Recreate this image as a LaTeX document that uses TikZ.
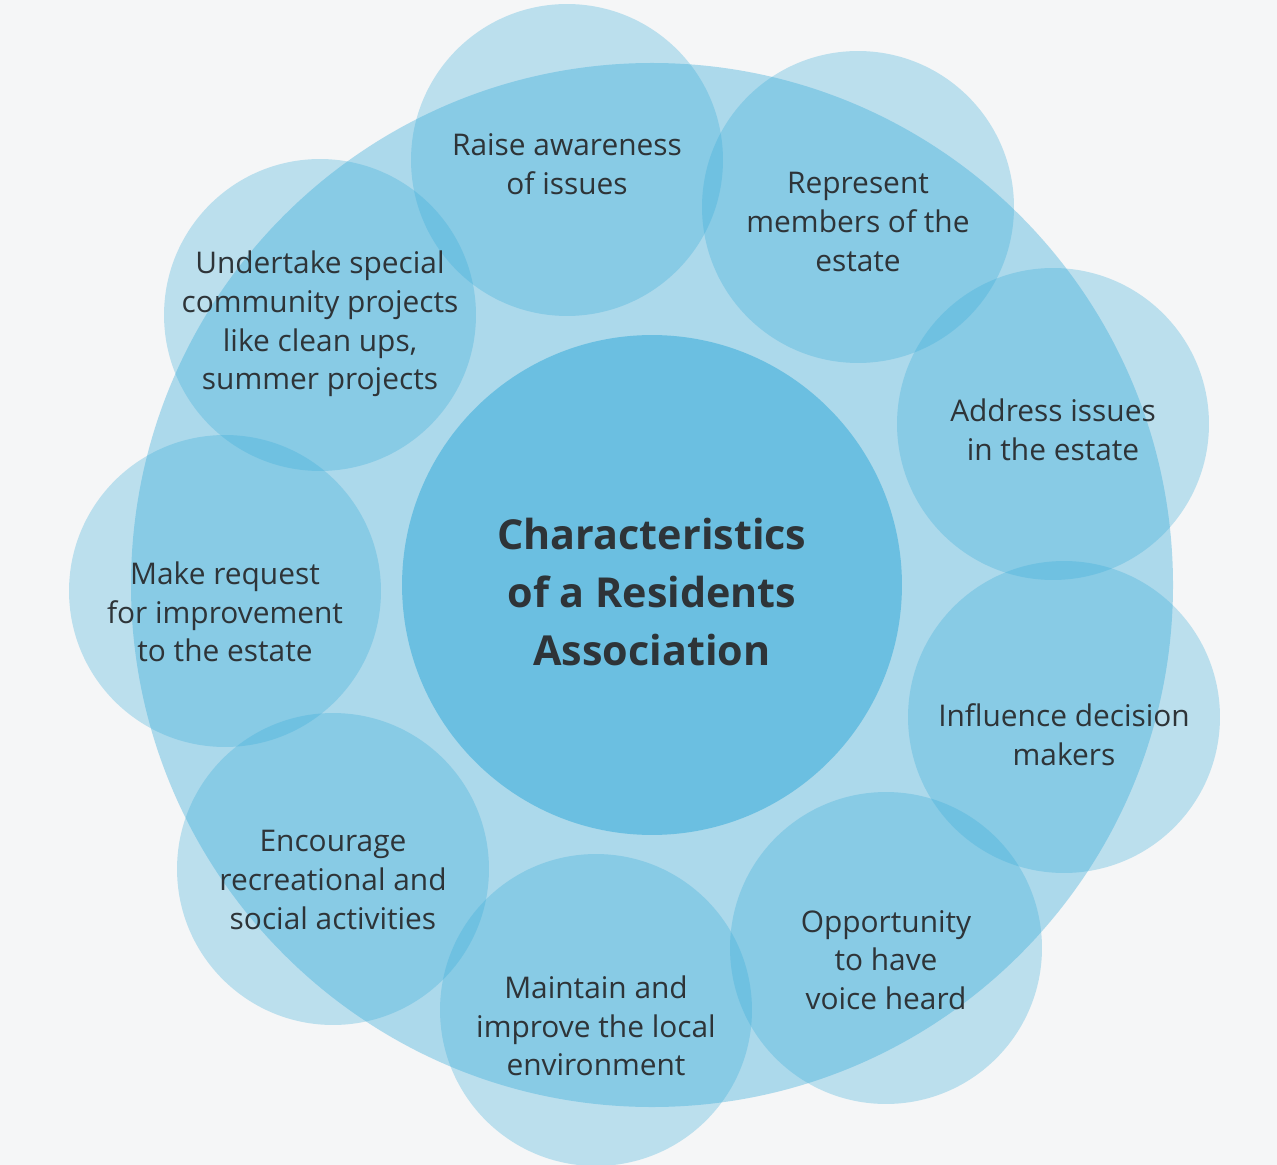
\documentclass[tikz,border=0pt]{standalone}
\usepackage{fontspec}
\setmainfont{Open Sans}
\definecolor{bg}{HTML}{F5F6F7}
\definecolor{bl}{HTML}{36ABD9}
\definecolor{txt}{HTML}{2E3438}
\begin{document}
\begin{tikzpicture}[x=0.02cm,y=-0.02cm,
  big/.style={fill=bl,fill opacity=0.38,draw=none},
  sm/.style={circle,minimum size=6.24cm,inner sep=0pt,fill=bl,fill opacity=0.3,draw=none},
  lb/.style={align=center,text=txt,font=\fontsize{17}{22}\selectfont},
]
\fill[bg] (0,0) rectangle (1277,1165);
\useasboundingbox (0,0) rectangle (1277,1165);
\fill[big] (652,585) ellipse [x radius=521, y radius=522];
\node[sm] (a) at (567,160) {};
\node[sm] (b) at (858,207) {};
\node[sm] (c) at (1053,424) {};
\node[sm] (d) at (1064,717) {};
\node[sm] (e) at (886,948) {};
\node[sm] (f) at (596,1010) {};
\node[sm] (g) at (333,869) {};
\node[sm] (h) at (225,591) {};
\node[sm] (i) at (320,315) {};
\node[circle,minimum size=10cm,inner sep=0pt,fill=bl,fill opacity=0.55,draw=none] (m) at (652,585) {};
\node[lb] (ta) at (567,164) {Raise awareness\\of issues};
\node[lb] (tb) at (858,222) {Represent\\members of the\\estate};
\node[lb] (tc) at (1053,430) {Address issues\\in the estate};
\node[lb] (td) at (1064,735) {Influence decision\\makers};
\node[lb] (te) at (886,960) {Opportunity\\to have\\voice heard};
\node[lb] (tf) at (596,1026) {Maintain and\\improve the local\\environment};
\node[lb] (tg) at (333,880) {Encourage\\recreational and\\social activities};
\node[lb] (th) at (225,612) {Make request\\for improvement\\to the estate};
\node[lb] (ti) at (320,324) {Undertake special\\community projects\\like clean ups,\\summer projects};
\node[align=center,text=txt,font=\fontsize{23.5}{33}\selectfont\bfseries] (tm) at (652,592) {Characteristics\\of a Residents\\Association};
\end{tikzpicture}
\end{document}
